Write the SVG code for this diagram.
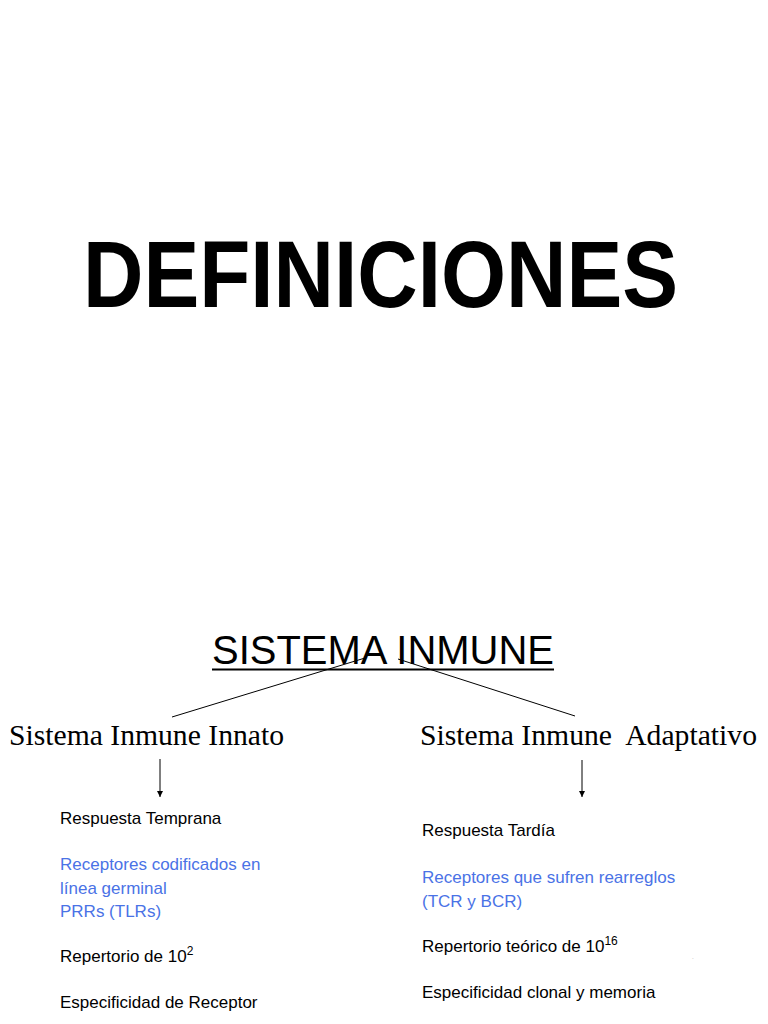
<svg xmlns="http://www.w3.org/2000/svg" width="768" height="1024" viewBox="0 0 768 1024">
<defs>
<style>
.title{font-family:"Liberation Sans",Arial,sans-serif;font-weight:bold;fill:#000}
.head{font-family:"Liberation Sans",Arial,sans-serif;fill:#000}
.tnr{font-family:"Liberation Serif","Times New Roman",serif;font-size:29.5px;fill:#000;white-space:pre}
.item{font-family:"Liberation Sans",Arial,sans-serif;font-size:17px;fill:#000}
.blue{fill:#4a72e6}
.sup{font-size:12px}
.ln{stroke:#000;stroke-width:1;fill:none}
</style>
<marker id="ah" viewBox="0 0 10 10" refX="10" refY="5" markerWidth="6" markerHeight="6" orient="auto" markerUnits="userSpaceOnUse">
<path d="M0,0 L10,5 L0,10 z" fill="#000"/>
</marker>
</defs>
<rect width="768" height="1024" fill="#fff"/>
<text class="title" x="83" y="307" font-size="95" textLength="595" lengthAdjust="spacingAndGlyphs">DEFINICIONES</text>
<g id="root">
<text class="head" x="212" y="664" font-size="41" textLength="342" lengthAdjust="spacingAndGlyphs">SISTEMA INMUNE</text>
<line x1="212" y1="669.5" x2="554" y2="669.5" stroke="#000" stroke-width="2"/>
</g>
<g id="connectors">
<line class="ln" x1="365" y1="658" x2="172" y2="717"/>
<line class="ln" x1="398" y1="659" x2="575" y2="716"/>
<line class="ln" x1="160" y1="759" x2="160" y2="797" marker-end="url(#ah)"/>
<line class="ln" x1="582" y1="760" x2="582" y2="797" marker-end="url(#ah)"/>
</g>
<g id="innato">
<text class="tnr" x="9" y="745" textLength="275" lengthAdjust="spacingAndGlyphs">Sistema Inmune Innato</text>
</g>
<g id="adaptativo">
<text class="tnr" x="420" y="745" textLength="337" lengthAdjust="spacingAndGlyphs">Sistema Inmune  Adaptativo</text>
</g>
<g id="innato-list">
<text class="item" x="60" y="824">Respuesta Temprana</text>
<text class="item blue" x="60" y="870">Receptores codificados en</text>
<text class="item blue" x="60" y="894">línea germinal</text>
<text class="item blue" x="60" y="917">PRRs (TLRs)</text>
<text class="item" x="60" y="962">Repertorio de 10<tspan class="sup" dy="-7">2</tspan></text>
<text class="item" x="60" y="1008">Especificidad de Receptor</text>
</g>
<g id="adaptativo-list">
<text class="item" x="422" y="836">Respuesta Tardía</text>
<text class="item blue" x="422" y="883">Receptores que sufren rearreglos</text>
<text class="item blue" x="422" y="907">(TCR y BCR)</text>
<text class="item" x="422" y="952">Repertorio teórico de 10<tspan class="sup" dy="-7">16</tspan></text>
<text class="item" x="422" y="998">Especificidad clonal y memoria</text>
<text x="692" y="959" font-family="Liberation Sans,sans-serif" font-size="6" fill="#999">.</text>
</g>
</svg>
